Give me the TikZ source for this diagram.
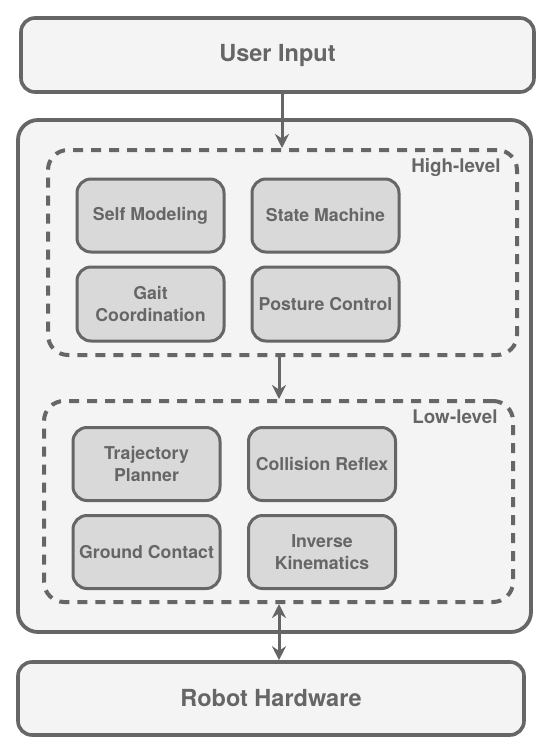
\documentclass[tikz,border=0pt]{standalone}
\usepackage{fontspec}
\setmainfont{TeX Gyre Heros}
\usetikzlibrary{arrows.meta}
\definecolor{strk}{HTML}{666666}
\definecolor{lightfill}{HTML}{F4F4F4}
\definecolor{boxfill}{HTML}{D9D9D9}
\tikzset{
  bigbox/.style={draw=strk, line width=3.6pt, fill=lightfill, rounded corners=14pt,
    text=strk, font=\fontsize{23.5}{27}\selectfont\bfseries},
  outerbox/.style={draw=strk, line width=3.8pt, fill=lightfill, rounded corners=20pt},
  groupbox/.style={draw=strk, line width=4pt, dash pattern=on 10pt off 8pt, rounded corners=20pt},
  modbox/.style={draw=strk, line width=3pt, fill=boxfill, rounded corners=14pt,
    text=strk, align=center, font=\fontsize{17.7}{22.5}\selectfont\bfseries},
  grouplabel/.style={text=strk, font=\fontsize{18.8}{21}\selectfont\bfseries, anchor=east},
  conn/.style={draw=strk, line width=3pt, -{Stealth[length=14pt,width=14pt]}},
  biconn/.style={draw=strk, line width=3pt, {Stealth[length=14pt,width=14pt]}-{Stealth[length=14pt,width=14pt]}},
}
\begin{document}
\begin{tikzpicture}[x=1pt,y=-1pt]
\useasboundingbox (0,0) rectangle (550,749);
% top and bottom boxes
\node[bigbox, minimum width=513pt, minimum height=74pt] (user) at (277.5,55) {User Input};
\node[bigbox, minimum width=506pt, minimum height=73pt] (hw) at (271,698.5) {Robot Hardware};
% outer container
\draw[outerbox] (18,120) rectangle (531,632);
\node[minimum width=513pt, minimum height=512pt, inner sep=0pt] (outer) at (274.5,376) {};
% group boxes
\node[groupbox, minimum width=469pt, minimum height=205pt, inner sep=0pt] (high) at (282.5,252.5) {};
\node[groupbox, minimum width=469pt, minimum height=201pt, inner sep=0pt] (low) at (278.5,501.5) {};
\node[grouplabel] (highlbl) at (504,168) {High-level};
\node[grouplabel] (lowlbl) at (501,417) {Low-level};
% high-level modules
\node[modbox, minimum width=147pt, minimum height=73pt] (self) at (150.5,215.5) {Self Modeling};
\node[modbox, minimum width=147pt, minimum height=73pt] (state) at (325.5,215.5) {State Machine};
\node[modbox, minimum width=147pt, minimum height=74pt] (gait) at (150.5,304) {Gait\\Coordination};
\node[modbox, minimum width=147pt, minimum height=74pt] (posture) at (325.5,304) {Posture Control};
% low-level modules
\node[modbox, minimum width=147pt, minimum height=73pt] (traj) at (146.5,464) {Trajectory\\Planner};
\node[modbox, minimum width=147pt, minimum height=73pt] (coll) at (322,464) {Collision Reflex};
\node[modbox, minimum width=147pt, minimum height=73pt] (ground) at (146.5,552) {Ground Contact};
\node[modbox, minimum width=147pt, minimum height=73pt] (ik) at (322,552) {Inverse\\Kinematics};
% connectors
\draw[conn] (user.south -| 282,0) -- (high.north -| 282,0);
\draw[conn] (high.south -| 279,0) -- (low.north -| 279,0);
\draw[biconn] (low.south -| 279,0) -- (hw.north -| 279,0);
\end{tikzpicture}
\end{document}
